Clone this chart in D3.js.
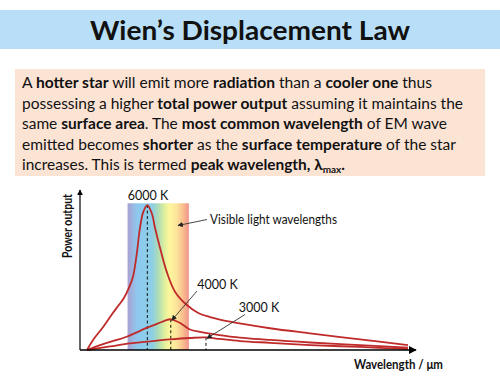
<!DOCTYPE html>
<html>
<head>
<meta charset="utf-8">
<script src="https://cdn.jsdelivr.net/npm/d3@7"></script>
<style>
  html, body { margin: 0; padding: 0; background: #fff; }
  svg { display: block; font-family: Lato, "Open Sans", sans-serif; }
</style>
</head>
<body>
<div id="chart"></div>
<script>
// Schematic black-body curves (arbitrary units)
const temperatures = ['6000 K', '4000 K', '3000 K'];
const curve6000 = [
  [0.21, 0], [0.39, 6.3], [0.69, 14.4], [0.96, 22.5], [1.16, 28.1], [1.31, 32.5],
  [1.46, 38.8], [1.58, 45.6], [1.69, 59.4], [1.79, 76.3], [1.89, 86.3], [2.01, 90.6],
  [2.14, 85.6], [2.24, 76.3], [2.39, 63.8], [2.59, 48.8], [2.84, 36.3], [3.19, 28.1],
  [3.53, 23.1], [3.88, 20.6], [4.48, 17.7], [5.67, 13.6], [6.87, 10.4], [8.36, 6.6], [9.79, 3.1]
];
const curve4000 = [
  [0.21, 0], [0.80, 4.4], [1.39, 8.3], [1.99, 13.8], [2.33, 16.6], [2.54, 18.4], [2.71, 19.2],
  [2.99, 16.9], [3.28, 12.8], [3.58, 11.3], [3.88, 10.3], [4.48, 8.4], [5.67, 6.3],
  [6.87, 4.7], [8.36, 3.1], [9.79, 1.4]
];
const curve3000 = [
  [0.21, 0], [0.90, 2.2], [1.49, 4.1], [1.99, 5.2], [2.69, 6.6], [3.28, 7.5], [3.76, 7.9],
  [4.18, 6.9], [4.78, 5.6], [5.67, 4.5], [6.87, 3.1], [8.36, 1.9], [9.79, 0.6]
];
const curves = [curve6000, curve4000, curve3000];
const visibleBand = [1.42, 3.25];
const visibleTop = 91.7;

const titleText = 'Wien\u2019s Displacement Law';
// each line: [text, bold, subscript]
const paragraph = [
  [['A ', 0], ['hotter star', 1], [' will emit more ', 0], ['radiation', 1], [' than a ', 0], ['cooler one', 1], [' thus', 0]],
  [['possessing a higher ', 0], ['total power output', 1], [' assuming it maintains the', 0]],
  [['same ', 0], ['surface area', 1], ['. The ', 0], ['most common wavelength', 1], [' of EM wave', 0]],
  [['emitted becomes ', 0], ['shorter', 1], [' as the ', 0], ['surface temperature', 1], [' of the star', 0]],
  [['increases. This is termed ', 0], ['peak wavelength, \u03bb', 1], ['max', 1, 1], ['.', 1]]
];
const lineWidths = [410, 441, 425, 434, 323];

const width = 500, height = 376;
const svg = d3.select('#chart').append('svg').attr('width', width).attr('height', height);

// title band
svg.append('rect').attr('x', 0).attr('y', 10).attr('width', width).attr('height', 39).attr('fill', '#b8dff7');
svg.append('text').attr('x', 250).attr('y', 39.5).attr('text-anchor', 'middle')
  .attr('font-size', 27).attr('font-weight', 700).attr('fill', '#111')
  .attr('textLength', 320).attr('lengthAdjust', 'spacingAndGlyphs')
  .text(titleText);

// text box
svg.append('rect').attr('x', 15).attr('y', 69).attr('width', 470).attr('height', 107).attr('fill', '#fce4d5');
paragraph.forEach((line, i) => {
  const t = svg.append('text').attr('x', 22).attr('y', 88 + i * 20.6)
    .attr('font-size', 15.5).attr('fill', '#111')
    .attr('textLength', lineWidths[i]).attr('lengthAdjust', 'spacingAndGlyphs');
  line.forEach(([s, b, sub]) => {
    const ts = t.append('tspan').attr('font-weight', b ? 700 : 400).text(s);
    if (sub) ts.attr('font-size', 10).attr('dy', 3);
    else if (s === '.') ts.attr('dy', -3);
  });
});

// chart
const x = d3.scaleLinear().domain([0, 10]).range([80, 415]);
const y = d3.scaleLinear().domain([0, 100]).range([350, 190]);

const defs = svg.append('defs');
const grad = defs.append('linearGradient').attr('id', 'spectrum').attr('x1', 0).attr('x2', 1).attr('y1', 0).attr('y2', 0);
[[0, '#a99fd2'], [0.08, '#9bb6e0'], [0.16, '#8ec8ef'], [0.4, '#8ccfe6'], [0.5, '#aedcb6'],
 [0.6, '#dcef9e'], [0.68, '#fdf79c'], [0.8, '#fde49a'], [0.9, '#f9c08e'], [1, '#f1948c']]
  .forEach(([o, c]) => grad.append('stop').attr('offset', o).attr('stop-color', c));

defs.append('marker').attr('id', 'head').attr('viewBox', '0 0 10 10').attr('refX', 9).attr('refY', 5)
  .attr('markerWidth', 6).attr('markerHeight', 6).attr('orient', 'auto-start-reverse')
  .append('path').attr('d', 'M0,0L10,5L0,10z').attr('fill', '#222');
defs.append('marker').attr('id', 'axisHead').attr('viewBox', '0 0 10 10').attr('refX', 9).attr('refY', 5)
  .attr('markerWidth', 5).attr('markerHeight', 5).attr('orient', 'auto')
  .append('path').attr('d', 'M0,0L10,5L0,10z').attr('fill', '#000');

svg.append('rect')
  .attr('x', x(visibleBand[0])).attr('y', y(visibleTop))
  .attr('width', x(visibleBand[1]) - x(visibleBand[0])).attr('height', y(0) - y(visibleTop))
  .attr('fill', 'url(#spectrum)');

const line = d3.line().x((d) => x(d[0])).y((d) => y(d[1])).curve(d3.curveCatmullRom.alpha(0.5));
const peaks = curves.map((c) => d3.greatest(c, (d) => d[1]));

// dashed peak markers
svg.selectAll('line.peak').data(peaks).join('line').attr('class', 'peak')
  .attr('x1', (d) => x(d[0])).attr('x2', (d) => x(d[0]))
  .attr('y1', (d) => y(d[1])).attr('y2', y(0))
  .attr('stroke', '#111').attr('stroke-width', 1).attr('stroke-dasharray', '3,2.5');

svg.selectAll('path.curve').data(curves).join('path').attr('class', 'curve')
  .attr('d', line).attr('fill', 'none').attr('stroke', '#bf2a2a').attr('stroke-width', 1.8);

// axes
svg.append('line').attr('x1', x(0)).attr('x2', x(0)).attr('y1', y(0)).attr('y2', 190)
  .attr('stroke', '#000').attr('stroke-width', 1.2).attr('marker-end', 'url(#axisHead)');
svg.append('line').attr('x1', x(0)).attr('x2', 416).attr('y1', y(0)).attr('y2', y(0))
  .attr('stroke', '#000').attr('stroke-width', 1.6).attr('marker-end', 'url(#axisHead)');

svg.append('text').attr('transform', 'translate(72,226) rotate(-90)').attr('text-anchor', 'middle')
  .attr('font-size', 12.5).attr('font-weight', 700).attr('fill', '#111')
  .attr('textLength', 64).attr('lengthAdjust', 'spacingAndGlyphs').text('Power output');
svg.append('text').attr('x', 354).attr('y', 369)
  .attr('font-size', 12.5).attr('font-weight', 700).attr('fill', '#111')
  .attr('textLength', 89).attr('lengthAdjust', 'spacingAndGlyphs').text('Wavelength / \u03bcm');

// labels
const labelPos = [[148, 200, null], [217.5, 288.5, [197, 291]], [259, 312, [245, 314.5]]];
temperatures.forEach((lab, i) => {
  const [lx, ly, from] = labelPos[i];
  svg.append('text').attr('x', lx).attr('y', ly).attr('text-anchor', 'middle')
    .attr('font-size', 12.5).attr('fill', '#111').text(lab);
  if (from) {
    svg.append('line').attr('x1', from[0]).attr('y1', from[1])
      .attr('x2', x(peaks[i][0]) + 1).attr('y2', y(peaks[i][1]) + 1)
      .attr('stroke', '#333').attr('stroke-width', 0.9).attr('marker-end', 'url(#head)');
  }
});

svg.append('text').attr('x', 210).attr('y', 224).attr('font-size', 12.5).attr('fill', '#111')
  .attr('textLength', 127).attr('lengthAdjust', 'spacingAndGlyphs').text('Visible light wavelengths');
svg.append('line').attr('x1', 207).attr('y1', 219.5).attr('x2', 178).attr('y2', 225.5)
  .attr('stroke', '#333').attr('stroke-width', 0.9).attr('marker-end', 'url(#head)');
</script>
</body>
</html>
